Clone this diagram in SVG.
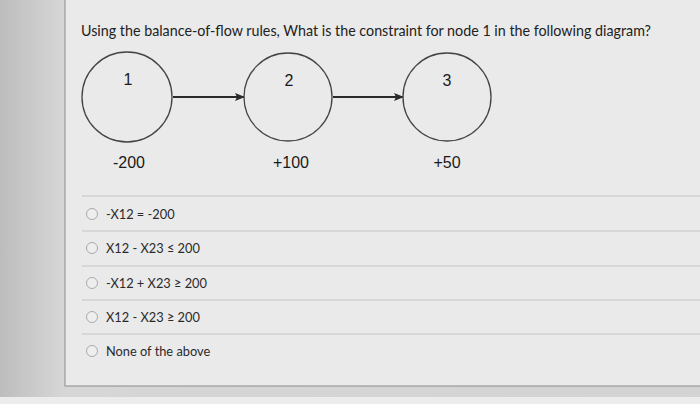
<svg xmlns="http://www.w3.org/2000/svg" width="700" height="404" viewBox="0 0 700 404">
<defs>
<linearGradient id="bg" x1="0" x2="1" y1="0" y2="0"><stop offset="0" stop-color="#bdbdbd"/><stop offset="0.09" stop-color="#d6d6d6"/><stop offset="1" stop-color="#d3d3d3"/></linearGradient>
<marker id="ah" markerWidth="10" markerHeight="8" refX="9" refY="4" orient="auto" markerUnits="userSpaceOnUse"><path d="M0,0 L10,4 L0,8 L2,4 Z" fill="#2a2a2a"/></marker>
</defs>
<style>
.n{fill:none;stroke:#444;stroke-width:1.3}
.t{font-family:Lato,"Liberation Sans",sans-serif;fill:#222}
.lbl{font-family:"Liberation Sans",Arial,sans-serif;font-size:16px;fill:#1a1a1a;text-anchor:middle}
.div{stroke:#c4c4c4;stroke-width:1}
.rb{fill:#eee;stroke:#aaa;stroke-width:1}
.opt{font-family:Lato,"Liberation Sans",sans-serif;font-size:12.8px;fill:#2a2a2a}
</style>
<rect width="700" height="404" fill="url(#bg)"/>
<rect x="65" y="-2" width="640" height="388" fill="#eaeaea" stroke="#9a9a9a" stroke-width="1.2"/>
<rect x="0" y="397" width="700" height="7" fill="#ececec"/>
<text class="t" x="81" y="36" font-size="15" textLength="570" lengthAdjust="spacingAndGlyphs">Using the balance-of-flow rules, What is the constraint for node 1 in the following diagram?</text>
<g id="connectors">
<line x1="173" y1="97" x2="244" y2="97" stroke="#2a2a2a" stroke-width="1.8" marker-end="url(#ah)"/>
<line x1="333" y1="97" x2="403" y2="97" stroke="#2a2a2a" stroke-width="1.8" marker-end="url(#ah)"/>
</g>
<g id="node1"><circle class="n" cx="127" cy="97" r="45"/><text class="lbl" x="128" y="85">1</text><text class="lbl" x="129" y="168">-200</text></g>
<g id="node2"><circle class="n" cx="288" cy="97" r="44"/><text class="lbl" x="289" y="86">2</text><text class="lbl" x="291" y="168">+100</text></g>
<g id="node3"><circle class="n" cx="447" cy="97" r="44"/><text class="lbl" x="447" y="86">3</text><text class="lbl" x="447" y="168">+50</text></g>
<g id="options">
<line class="div" x1="82" y1="196" x2="700" y2="196"/>
<line class="div" x1="82" y1="231" x2="700" y2="231"/>
<line class="div" x1="82" y1="266" x2="700" y2="266"/>
<line class="div" x1="82" y1="300" x2="700" y2="300"/>
<line class="div" x1="82" y1="334" x2="700" y2="334"/>
<circle class="rb" cx="92" cy="214" r="5.5"/><text class="opt" x="106" y="218.5">-X12 = -200</text>
<circle class="rb" cx="92" cy="248" r="5.5"/><text class="opt" x="106" y="252.5">X12 - X23 ≤ 200</text>
<circle class="rb" cx="92" cy="283" r="5.5"/><text class="opt" x="106" y="287.5">-X12 + X23 ≥ 200</text>
<circle class="rb" cx="92" cy="317" r="5.5"/><text class="opt" x="106" y="321.5">X12 - X23 ≥ 200</text>
<circle class="rb" cx="92" cy="351" r="5.5"/><text class="opt" x="106" y="355.5">None of the above</text>
</g>
</svg>
